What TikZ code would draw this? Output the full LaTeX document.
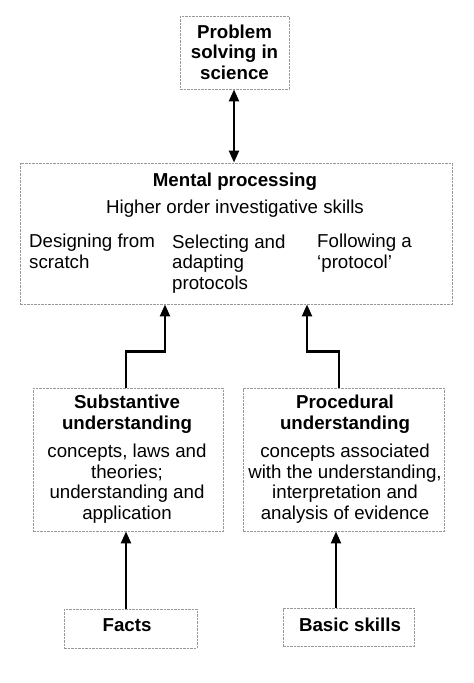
\documentclass[tikz,border=0pt]{standalone}
\usepackage{fontspec}
\setmainfont{Liberation Sans}
\usetikzlibrary{arrows.meta,positioning,calc}
\begin{document}
\begin{tikzpicture}[x=1pt,y=-1pt,
  box/.style={draw=black!40, line width=0.9pt, dash pattern=on 2.5pt off 1pt, inner sep=0pt, rectangle},
  txt/.style={font=\fontsize{18.7}{20.7}\selectfont, inner sep=0pt},
  btxt/.style={font=\fontsize{18.7}{20.7}\selectfont\bfseries, inner sep=0pt},
  arr/.style={line width=2.3pt, -{Triangle[length=12pt,width=10pt]}},
  darr/.style={line width=2.3pt, {Triangle[length=12pt,width=10pt]}-{Triangle[length=12pt,width=10pt]}}]
\useasboundingbox (0,0) rectangle (474,683);
% boxes
\node[box, minimum width=109, minimum height=73] (top) at (234.5,52.5) {};
\node[box, minimum width=432, minimum height=141] (mental) at (236,233.5) {};
\node[box, minimum width=190, minimum height=143] (sub) at (128,459.5) {};
\node[box, minimum width=201, minimum height=143] (proc) at (343.5,459.5) {};
\node[box, minimum width=133, minimum height=39] (facts) at (130.5,628.5) {};
\node[box, minimum width=131, minimum height=38] (basic) at (348.5,627) {};
% texts (base anchor = baseline of last line)
\node[btxt, align=center, anchor=base] (ttop) at (234.5,79.5) {Problem\\solving in\\science};
\node[btxt, anchor=base] (tmental) at (235,186.5) {Mental processing};
\node[txt, anchor=base] (thigh) at (235,213.5) {Higher order investigative skills};
\node[txt, align=left, anchor=base west] (c1) at (29,268.5) {Designing from\\scratch};
\node[txt, align=left, anchor=base west] (c2) at (172,289.5) {Selecting and\\adapting\\protocols};
\node[txt, align=left, anchor=base west] (c3) at (317,268.5) {Following a\\‘protocol’};
\node[btxt, align=center, anchor=base] (tsub) at (127,429.5) {Substantive\\understanding};
\node[txt, align=center, anchor=base] (bsub) at (127,519.5) {concepts, laws and\\theories;\\understanding and\\application};
\node[btxt, align=center, anchor=base] (tproc) at (345,429.5) {Procedural\\understanding};
\node[txt, align=center, anchor=base] (bproc) at (345,519.5) {concepts associated\\with the understanding,\\interpretation and\\analysis of evidence};
\node[btxt, anchor=base] (tfacts) at (127,631.5) {Facts};
\node[btxt, anchor=base] (tbasic) at (350,631.5) {Basic skills};
% connectors
\draw[darr] ([xshift=-0.5]top.south) -- ([xshift=-0.5]top.south |- mental.north);
\draw[arr] ([xshift=-2]sub.north) -- ++(0,-36) -| ([xshift=-71]mental.south);
\draw[arr] ([xshift=-4.5]proc.north) -- ++(0,-36) -| ([xshift=71]mental.south);
\draw[arr] ([xshift=-2]sub.south |- facts.north) -- ([xshift=-2]sub.south);
\draw[arr] ([xshift=-7.5]proc.south |- basic.north) -- ([xshift=-7.5]proc.south);
\end{tikzpicture}
\end{document}
